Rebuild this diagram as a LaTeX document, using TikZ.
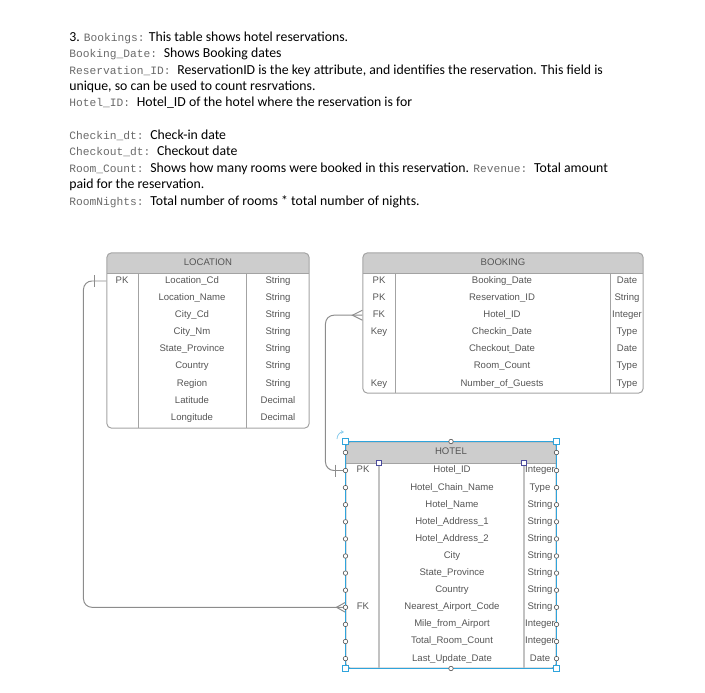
\documentclass[tikz,border=0pt]{standalone}
\usepackage{fontspec}
\setmainfont{Carlito}
\setsansfont{Liberation Sans}
\setmonofont{Liberation Mono}
\usetikzlibrary{positioning,arrows.meta}
\definecolor{ink}{HTML}{555555}
\definecolor{codegrey}{HTML}{6A6A6A}
\definecolor{rulegrey}{HTML}{A3A3A3}
\definecolor{colgrey}{HTML}{C2C2C2}
\definecolor{headgrey}{HTML}{CDCDCD}
\definecolor{wiregrey}{HTML}{8C8C8C}
\definecolor{selblue}{HTML}{2FA4DC}
\definecolor{gripblue}{HTML}{4A4A9C}
\newcommand{\cd}[1]{{\ttfamily\fontsize{8}{11}\selectfont\color{codegrey}#1}}

\begin{document}
\begin{tikzpicture}[x=0.025cm,y=-0.025cm,
 note/.style={anchor=base west,inner sep=0pt,font=\fontsize{9.8}{12}\selectfont},
 tbl/.style={draw=rulegrey,line width=.7pt,rounded corners=3pt,inner sep=0pt,path picture={\fill[headgrey,sharp corners] (path picture bounding box.north west) rectangle ([yshift=-#1]path picture bounding box.north east);}},
 tbl/.default=0.5cm,
 cell/.style={inner sep=0pt,text=ink,font=\sffamily\fontsize{6.8}{8}\selectfont,text height=4.9pt,text depth=1.4pt},
 rel/.style={draw=wiregrey,line width=.7pt},
 dot/.style={circle,draw=black!70,fill=white,line width=.4pt,inner sep=0pt,minimum size=3.2pt},
 handle/.style={draw=selblue,fill=white,line width=.5pt,inner sep=0pt,minimum size=4pt},
 colgrip/.style={draw=gripblue,fill=white,line width=.5pt,inner sep=0pt,minimum size=3.3pt}]
\useasboundingbox (0,0) rectangle (705,692);

% notes above the diagram
\node[note] (n1) at (69,41.5) {3. \cd{Bookings:} This table shows hotel reservations.};
\node[note] (n2) at (69,57.5) {\cd{Booking\_Date: }Shows Booking dates};
\node[note] (n3) at (69,74.5) {\cd{Reservation\_ID: }ReservationID is the key attribute, and identifies the reservation. This field is};
\node[note] (n4) at (69,90.5) {unique, so can be used to count resrvations.};
\node[note] (n5) at (69,106.5) {\cd{Hotel\_ID: }Hotel\_ID of the hotel where the reservation is for};
\node[note] (n6) at (69,139.5) {\cd{Checkin\_dt: }Check-in date};
\node[note] (n7) at (69,155.5) {\cd{Checkout\_dt: }Checkout date};
\node[note] (n8) at (69,172.5) {\cd{Room\_Count: }Shows how many rooms were booked in this reservation. \cd{Revenue: }Total amount};
\node[note] (n9) at (69,188.5) {paid for the reservation.};
\node[note] (n10) at (69,205.5) {\cd{RoomNights: }Total number of rooms * total number of nights.};

% LOCATION
\node[tbl,minimum width=5.05cm,minimum height=4.375cm] (location) at (208,340.5) {};
\node[cell] (lochead) at (208,263) {LOCATION};
\draw[rulegrey,line width=.7pt] (107,273)--(309,273) (138,273)--(138,428) (246,273)--(246,428);
\foreach \k/\f/\t [count=\i] in {PK/Location\_Cd/String,{}/Location\_Name/String,{}/City\_Cd/String,{}/City\_Nm/String,{}/State\_Province/String,{}/Country/String,{}/Region/String,{}/Latitude/Decimal,{}/Longitude/Decimal}{
 \node[cell] (loc\i) at (122,{263.9+17.1*\i}) {\k};
 \node[cell] (locf\i) at (192,{263.9+17.1*\i}) {\f};
 \node[cell] (loct\i) at (278,{263.9+17.1*\i}) {\t};}

% BOOKING
\node[tbl,minimum width=7cm,minimum height=3.5cm] (booking) at (503,323) {};
\node[cell] (bkhead) at (503,263) {BOOKING};
\draw[rulegrey,line width=.7pt] (363,273)--(643,273) (395,273)--(395,393) (610,273)--(610,393);
\foreach \k/\f/\t [count=\i] in {PK/Booking\_Date/Date,PK/Reservation\_ID/String,FK/Hotel\_ID/Integer,Key/Checkin\_Date/Type,{}/Checkout\_Date/Date,{}/Room\_Count/Type,Key/Number\_of\_Guests/Type}{
 \node[cell] (bk\i) at (379,{263.9+17.1*\i}) {\k};
 \node[cell] (bkf\i) at (502,{263.9+17.1*\i}) {\f};
 \node[cell] (bkt\i) at (627,{263.9+17.1*\i}) {\t};}

% HOTEL
\node[tbl=0.525cm,minimum width=5.25cm,minimum height=5.65cm] (hotel) at (451,555) {};
\node[cell] (hothead) at (451,452.5) {HOTEL};
\draw[rulegrey,line width=.7pt] (346,463)--(556,463);
\draw[colgrey,line width=1pt] (379,463)--(379,668) (524,463)--(524,668);
\foreach \k/\f/\t [count=\i] in {PK/Hotel\_ID/Integer,{}/Hotel\_Chain\_Name/Type,{}/Hotel\_Name/String,{}/Hotel\_Address\_1/String,{}/Hotel\_Address\_2/String,{}/City/String,{}/State\_Province/String,{}/Country/String,FK/Nearest\_Airport\_Code/String,{}/Mile\_from\_Airport/Integer,{}/Total\_Room\_Count/Integer,{}/Last\_Update\_Date/Date}{
 \node[cell] (hot\i) at (363,{453.4+17.1*\i}) {\k};
 \node[cell] (hotf\i) at (452,{453.4+17.1*\i}) {\f};
 \node[cell] (hott\i) at (540,{453.4+17.1*\i}) {\t};}

% relationships
\coordinate (locpk) at (location.west |- loc1);
\coordinate (hotfk) at (hotel.west |- hot9);
\coordinate (bkfk) at (booking.west |- bk3);
\coordinate (hotpk) at (hotel.west |- hot1);
\draw[rel,rounded corners=6pt] (locpk) -- ++(-23,0) |- (hotfk);
\draw[rel,rounded corners=6pt] (bkfk) -- ++(-37,0) |- (hotpk);
\draw[rel] ([shift={(-12,-6)}]locpk) -- ++(0,12) ([shift={(-10,-6)}]hotpk) -- ++(0,12);
\draw[rel] ([shift={(0,-5)}]bkfk) -- ++(-10,5) -- ++(10,5) ([shift={(0,-5)}]hotfk) -- ++(-9,5) -- ++(9,5);

% selection marks on HOTEL
\draw[selblue,line width=.7pt] (hotel.north west) rectangle (hotel.south east);
\draw[selblue!55,line width=.6pt,-{Stealth[length=2.2pt,width=2.6pt]}] (337,439) to[out=90,in=180] (344,432);
\node[dot] (dl0) at (hotel.west |- hothead) {};
\node[dot] (dr0) at (hotel.east |- hothead) {};
\foreach \i in {1,...,12}{
 \node[dot] (dl\i) at (hotel.west |- hot\i) {};
 \node[dot] (dr\i) at (hotel.east |- hot\i) {};}
\node[dot] (dtop) at (hotel.north) {};
\node[dot] (dbot) at (hotel.south) {};
\foreach \a [count=\i] in {north west,north east,south west,south east}
 \node[handle] (hc\i) at (hotel.\a) {};
\node[colgrip] (cg1) at (379,463) {};
\node[colgrip] (cg2) at (524,463) {};
\end{tikzpicture}
\end{document}
